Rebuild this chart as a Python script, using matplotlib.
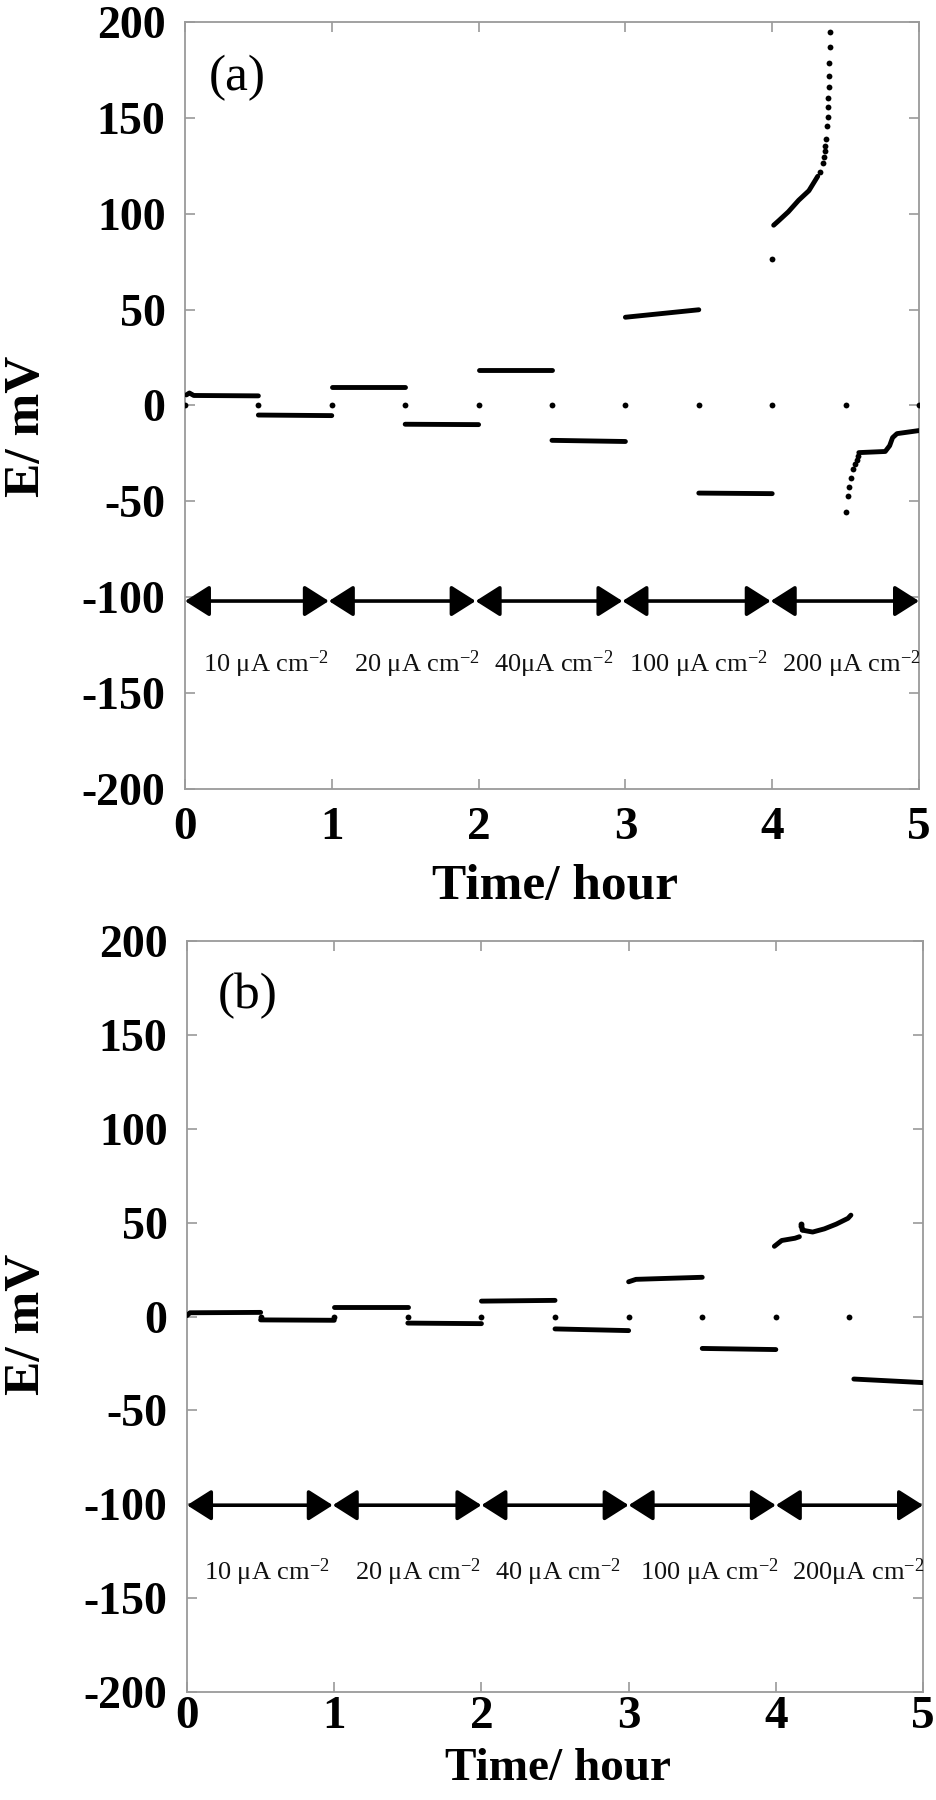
import matplotlib
matplotlib.use('Agg')
import matplotlib.pyplot as plt
from matplotlib.patches import FancyArrowPatch

plt.rcParams['font.family'] = ['Liberation Serif', 'DejaVu Serif']
plt.rcParams['mathtext.fontset'] = 'custom'
plt.rcParams['mathtext.rm'] = 'Liberation Serif'
plt.rcParams['mathtext.it'] = 'Liberation Serif:italic'
plt.rcParams['mathtext.bf'] = 'Liberation Serif:bold'
plt.rcParams['axes.unicode_minus'] = False

# ---------------- Panel (a) data ----------------
a_seg_times = [
    [0.01, 0.03, 0.06, 0.5],
    [0.5, 1.0],
    [1.0, 1.5],
    [1.5, 2.0],
    [2.0, 2.5],
    [2.5, 3.0],
    [3.0, 3.5],
    [3.5, 4.0],
    [4.01, 4.045, 4.11, 4.18, 4.25, 4.29, 4.31],
    [4.59, 4.77, 4.80, 4.82, 4.85, 5.0],
]
a_seg_values = [
    [5.5, 6.5, 5.2, 5.0],
    [-5.0, -5.3],
    [9.4, 9.4],
    [-9.8, -10.0],
    [18.7, 18.7],
    [-18.2, -18.8],
    [46.0, 49.9],
    [-45.7, -46.0],
    [94.0, 96.4, 101.0, 107.0, 112.0, 117.0, 119.5],
    [-24.6, -24.0, -21.0, -16.8, -14.7, -13.1],
]
a_dot_times = [0.0, 0.5, 1.0, 1.5, 2.0, 2.5, 3.0, 3.5, 4.0, 4.5, 5.0,
               4.0,
               4.328, 4.344, 4.352, 4.357, 4.363, 4.369, 4.373, 4.377, 4.38,
               4.383, 4.385, 4.387, 4.389, 4.391, 4.392,
               4.503, 4.515, 4.52, 4.535, 4.55, 4.562, 4.576, 4.585]
a_dot_values = [0, 0, 0, 0, 0, 0, 0, 0, 0, 0, 0,
                76.4,
                121.8, 126.6, 129.5, 132.7, 135.5, 138.7, 146.0, 150.5, 155.7,
                160.5, 165.9, 172.0, 178.7, 187.2, 195.0,
                -55.8, -47.4, -42.7, -38.0, -33.4, -30.5, -28.7, -26.5]
a_arrow_bounds = [0.0, 0.98, 1.98, 2.98, 3.99, 5.0]
a_arrow_y = -102
a_labels = ["10 μA cm$^{-2}$", "20 μA cm$^{-2}$", "40μA cm$^{-2}$",
            "100 μA cm$^{-2}$", "200 μA cm$^{-2}$"]
a_label_x = [0.55, 1.58, 2.51, 3.50, 4.54]
a_label_y = -135

# ---------------- Panel (b) data ----------------
b_seg_times = [
    [0.0, 0.02, 0.5],
    [0.5, 1.0],
    [1.0, 1.5],
    [1.5, 2.0],
    [2.0, 2.5],
    [2.5, 3.0],
    [3.0, 3.05, 3.5],
    [3.5, 4.0],
    [3.99, 4.04, 4.13, 4.16],
    [4.18, 4.25, 4.33, 4.41, 4.49, 4.51],
    [4.53, 5.0],
]
b_seg_values = [
    [0.5, 2.0, 2.2],
    [-1.8, -2.0],
    [5.0, 5.0],
    [-3.5, -3.8],
    [8.2, 8.6],
    [-6.6, -7.5],
    [18.5, 19.8, 20.9],
    [-17.0, -17.6],
    [37.4, 40.5, 41.7, 42.5],
    [46.0, 45.0, 46.7, 49.2, 52.3, 54.0],
    [-33.3, -35.2],
]
b_dot_times = [0.5, 1.0, 1.5, 2.0, 2.5, 3.0, 3.5, 4.0, 4.5, 4.168, 4.172, 4.176]
b_dot_values = [0, 0, 0, 0, 0, 0, 0, 0, 0, 49.5, 48.0, 46.8]
b_arrow_bounds = [0.0, 0.99, 2.0, 3.0, 4.0, 5.0]
b_arrow_y = -100.5
b_labels = ["10 μA cm$^{-2}$", "20 μA cm$^{-2}$", "40 μA cm$^{-2}$",
            "100 μA cm$^{-2}$", "200μA cm$^{-2}$"]
b_label_x = [0.54, 1.57, 2.52, 3.55, 4.56]
b_label_y = -136

x_ticks = [0, 1, 2, 3, 4, 5]
y_ticks = [-200, -150, -100, -50, 0, 50, 100, 150, 200]

fig = plt.figure(figsize=(9.37, 18), dpi=100)
axA = fig.add_axes([0.1974, 0.5617, 0.7834, 0.4261])
axB = fig.add_axes([0.1996, 0.0600, 0.7855, 0.4172])

gray = '#9a9a9a'


def draw_panel(ax, seg_t, seg_v, dot_t, dot_v, bounds, ay, labels, lx, ly,
               tag, tag_x, xpad, xlab_y, xlab_size, ylab_x, ylab_y):
    for t, v in zip(seg_t, seg_v):
        ax.plot(t, v, color='black', lw=3.5, solid_capstyle='round', zorder=3)
    ax.plot(dot_t, dot_v, 'o', color='black', ms=4.2, mew=0, zorder=3)
    for i in range(len(bounds) - 1):
        arr = FancyArrowPatch((bounds[i], ay), (bounds[i + 1], ay),
                              arrowstyle='<|-|>,head_length=15,head_width=9.5',
                              mutation_scale=1, lw=2.6, color='black',
                              shrinkA=0, shrinkB=0, zorder=4)
        ax.add_patch(arr)
    for s, x in zip(labels, lx):
        ax.text(x, ly, s, fontsize=19, ha='center', va='center', color='#111111')
    ax.text(tag_x, 171, tag, fontsize=37, ha='left', va='center')
    ax.set_xlim(0, 5)
    ax.set_ylim(-200, 200)
    ax.set_xticks(x_ticks)
    ax.set_yticks(y_ticks)
    ax.set_xticklabels([str(v) for v in x_ticks], fontsize=34, fontweight='bold')
    ax.set_yticklabels([str(v) for v in y_ticks], fontsize=33, fontweight='bold')
    ax.tick_params(direction='in', length=7, width=1.2, color=gray,
                   top=True, right=True)
    ax.tick_params(axis='x', pad=xpad)
    ax.tick_params(axis='y', pad=14)
    for sp in ax.spines.values():
        sp.set_color(gray)
        sp.set_linewidth(1.3)
    ax.set_xlabel('Time/ hour', fontsize=xlab_size, fontweight='bold')
    ax.set_ylabel('E/ mV', fontsize=37, fontweight='bold')
    ax.xaxis.set_label_coords(0.504, xlab_y)
    ax.yaxis.set_label_coords(ylab_x, ylab_y)


draw_panel(axA, a_seg_times, a_seg_values, a_dot_times, a_dot_values,
           a_arrow_bounds, a_arrow_y, a_labels, a_label_x, a_label_y, '(a)', 0.16,
           13, -0.098, 37, -0.184, 0.473)
draw_panel(axB, b_seg_times, b_seg_values, b_dot_times, b_dot_values,
           b_arrow_bounds, b_arrow_y, b_labels, b_label_x, b_label_y, '(b)', 0.21,
           3, -0.074, 34, -0.186, 0.49)

fig.savefig('out.png', dpi=100)
